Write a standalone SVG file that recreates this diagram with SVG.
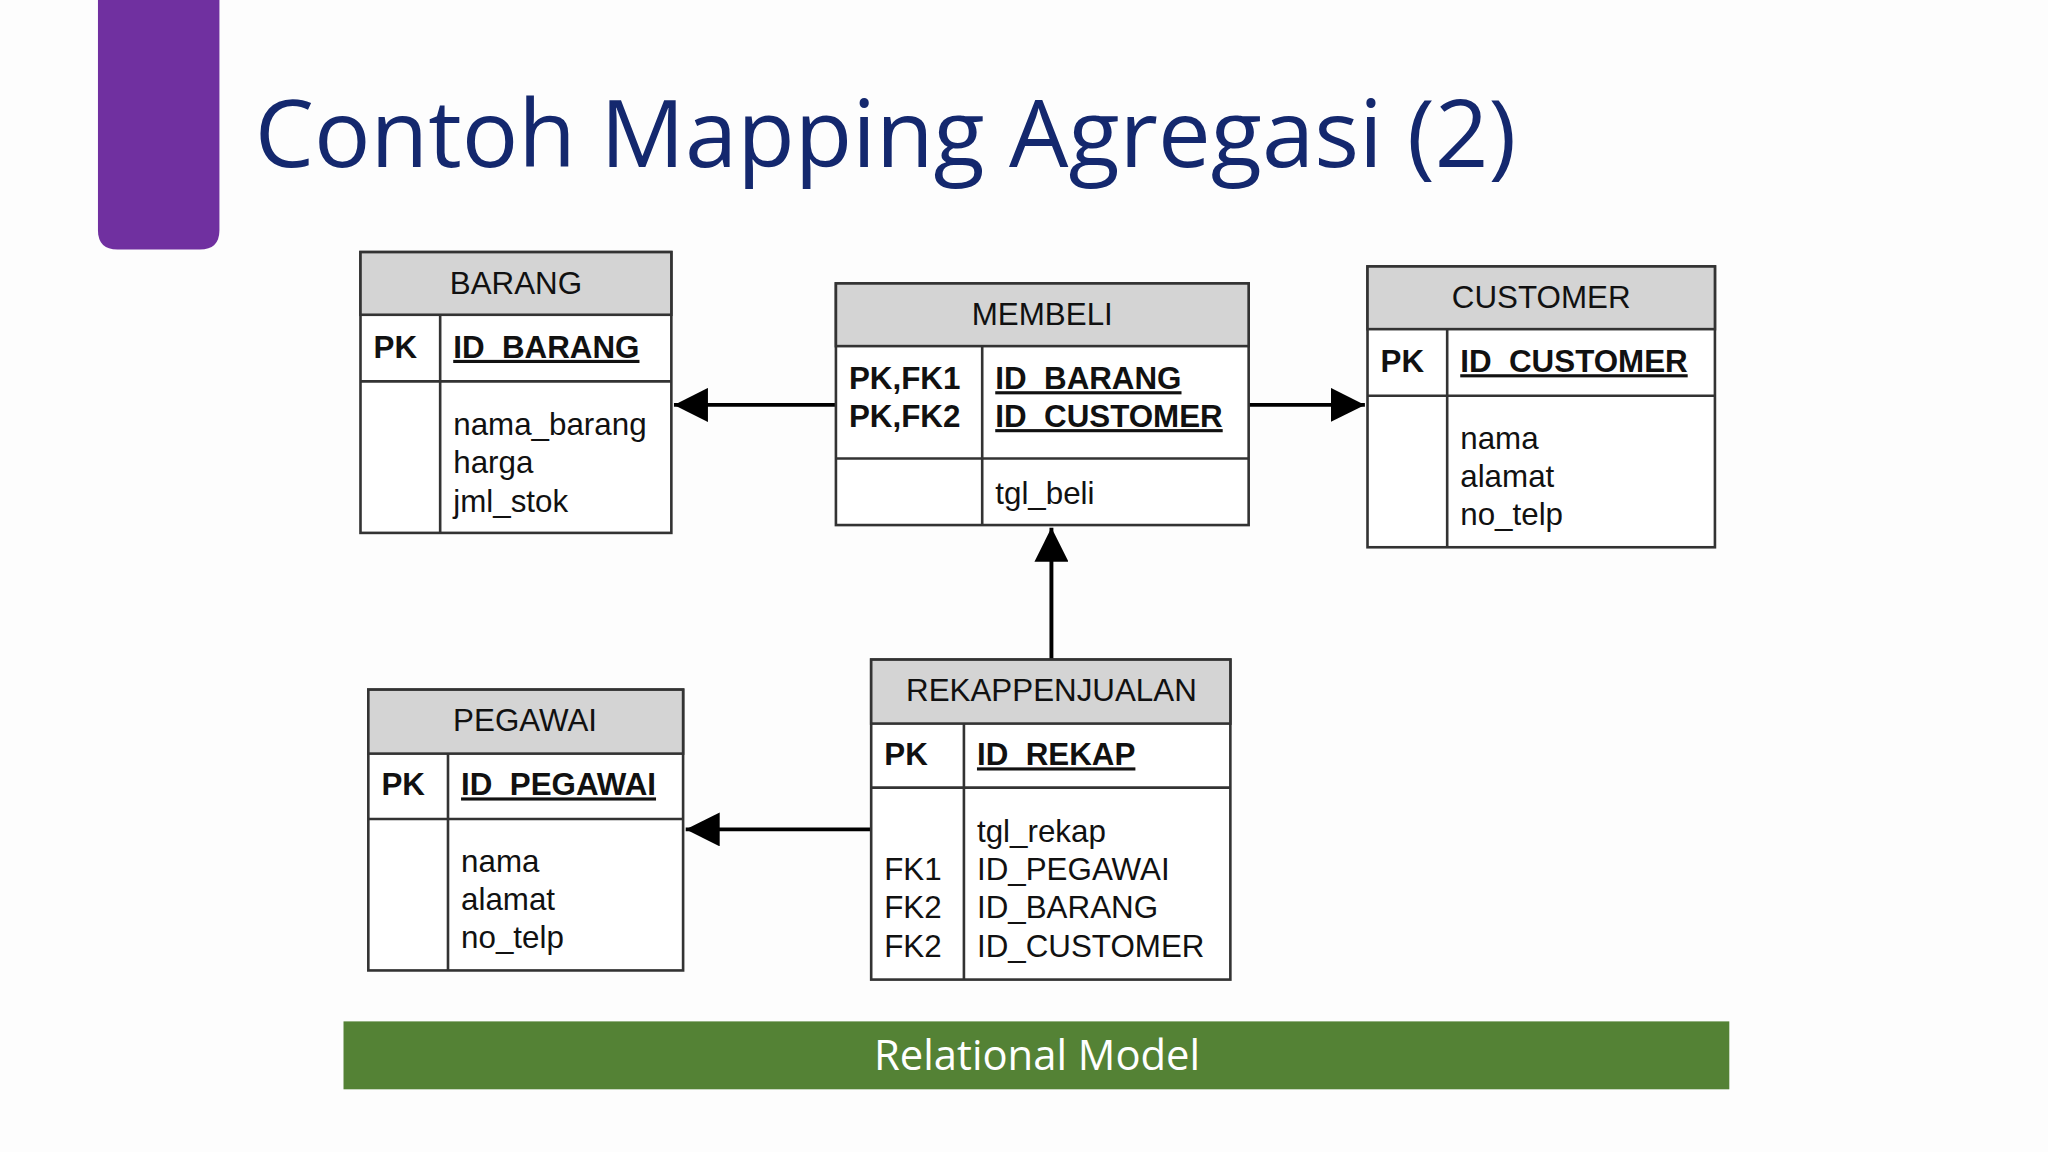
<svg xmlns="http://www.w3.org/2000/svg" width="2048" height="1152" viewBox="0 0 2048 1152">
<style>
.t{font-family:"Liberation Sans",Arial,sans-serif;font-size:24px;fill:#111}
.b{font-weight:bold}
.u{text-decoration:underline}
.box{fill:#fff;stroke:#333;stroke-width:2}
.hd{fill:#d4d4d4;stroke:#333;stroke-width:2}
.ln{stroke:#333;stroke-width:2}
.c{stroke:#000;stroke-width:3;fill:none}
</style>
<defs><marker id="ar" markerWidth="10" markerHeight="10" refX="9" refY="5" orient="auto" markerUnits="userSpaceOnUse" viewBox="0 0 10 10"><path d="M0,0 L10,5 L0,10z" fill="#000"/></marker>
<marker id="a" viewBox="0 0 10 10" refX="10" refY="5" markerWidth="26" markerHeight="26" markerUnits="userSpaceOnUse" orient="auto"><path d="M0,0 L10,5 L0,10z" fill="#000"/></marker></defs>
<rect width="2048" height="1152" fill="#fdfdfd"/>
<g transform="scale(1.30612)">
<path d="M75,0 H168 V176 Q168,191 153,191 H90 Q75,191 75,176 Z" fill="#7030a0"/>
<text x="195" y="128" font-family="Open Sans,sans-serif" font-size="72" fill="#14286e">Contoh Mapping Agregasi (2)</text>
<g id="connectors">
<line class="c" x1="640" y1="310" x2="516" y2="310" marker-end="url(#a)"/>
<line class="c" x1="956" y1="310" x2="1045" y2="310" marker-end="url(#a)"/>
<line class="c" x1="805" y1="505" x2="805" y2="404" marker-end="url(#a)"/>
<line class="c" x1="667" y1="635" x2="525" y2="635" marker-end="url(#a)"/>
</g>
<g id="barang">
<rect class="box" x="276" y="193" width="238" height="215"/>
<rect class="hd" x="276" y="193" width="238" height="48"/>
<line class="ln" x1="276" y1="292" x2="514" y2="292"/><line class="ln" x1="337" y1="241" x2="337" y2="408"/>
<text class="t" x="395" y="225" text-anchor="middle">BARANG</text>
<text class="t b" x="286" y="274">PK</text><text class="t b u" x="347" y="274">ID_BARANG</text>
<text class="t" x="347" y="333">nama_barang</text><text class="t" x="347" y="362">harga</text><text class="t" x="347" y="392">jml_stok</text>
</g>
<g id="membeli">
<rect class="box" x="640" y="217" width="316" height="185"/>
<rect class="hd" x="640" y="217" width="316" height="48"/>
<line class="ln" x1="640" y1="351" x2="956" y2="351"/><line class="ln" x1="752" y1="265" x2="752" y2="402"/>
<text class="t" x="798" y="249" text-anchor="middle">MEMBELI</text>
<text class="t b" x="650" y="298">PK,FK1</text><text class="t b" x="650" y="327">PK,FK2</text>
<text class="t b u" x="762" y="298">ID_BARANG</text><text class="t b u" x="762" y="327">ID_CUSTOMER</text>
<text class="t" x="762" y="386">tgl_beli</text>
</g>
<g id="customer">
<rect class="box" x="1047" y="204" width="266" height="215"/>
<rect class="hd" x="1047" y="204" width="266" height="48"/>
<line class="ln" x1="1047" y1="303" x2="1313" y2="303"/><line class="ln" x1="1108" y1="252" x2="1108" y2="419"/>
<text class="t" x="1180" y="236" text-anchor="middle">CUSTOMER</text>
<text class="t b" x="1057" y="285">PK</text><text class="t b u" x="1118" y="285">ID_CUSTOMER</text>
<text class="t" x="1118" y="344">nama</text><text class="t" x="1118" y="373">alamat</text><text class="t" x="1118" y="402">no_telp</text>
</g>
<g id="pegawai">
<rect class="box" x="282" y="528" width="241" height="215"/>
<rect class="hd" x="282" y="528" width="241" height="49"/>
<line class="ln" x1="282" y1="627" x2="523" y2="627"/><line class="ln" x1="343" y1="577" x2="343" y2="743"/>
<text class="t" x="402" y="560" text-anchor="middle">PEGAWAI</text>
<text class="t b" x="292" y="609">PK</text><text class="t b u" x="353" y="609">ID_PEGAWAI</text>
<text class="t" x="353" y="668">nama</text><text class="t" x="353" y="697">alamat</text><text class="t" x="353" y="726">no_telp</text>
</g>
<g id="rekappenjualan">
<rect class="box" x="667" y="505" width="275" height="245"/>
<rect class="hd" x="667" y="505" width="275" height="49"/>
<line class="ln" x1="667" y1="603" x2="942" y2="603"/><line class="ln" x1="738" y1="554" x2="738" y2="750"/>
<text class="t" x="805" y="537" text-anchor="middle">REKAPPENJUALAN</text>
<text class="t b" x="677" y="586">PK</text><text class="t b u" x="748" y="586">ID_REKAP</text>
<text class="t" x="748" y="645">tgl_rekap</text>
<text class="t" x="677" y="674">FK1</text><text class="t" x="748" y="674">ID_PEGAWAI</text>
<text class="t" x="677" y="703">FK2</text><text class="t" x="748" y="703">ID_BARANG</text>
<text class="t" x="677" y="733">FK2</text><text class="t" x="748" y="733">ID_CUSTOMER</text>
</g>
<rect x="263" y="782" width="1061" height="52" fill="#548235"/>
<text x="794" y="819" text-anchor="middle" font-family="Open Sans,sans-serif" font-size="32" fill="#fff">Relational Model</text>
</g>
</svg>
